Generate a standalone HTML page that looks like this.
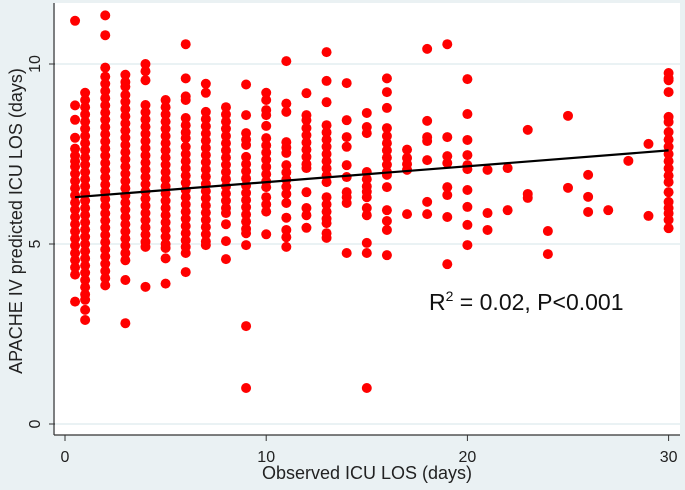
<!DOCTYPE html>
<html><head><meta charset="utf-8"><style>
html,body{margin:0;padding:0;background:#eaf1f3;}
svg{display:block;font-family:"Liberation Sans",sans-serif;}
</style></head><body>
<svg id="chart" width="685" height="490" viewBox="0 0 685 490" xmlns="http://www.w3.org/2000/svg">
<rect x="0" y="0" width="685" height="490" fill="#eaf1f3"/>
<rect x="55" y="3" width="625" height="432" fill="#ffffff"/>
<g id="grid"></g>
<g id="points"></g>
<g id="fit"></g>
<g id="axes"></g>
<text transform="translate(22,221) rotate(-90)" text-anchor="middle" font-size="18" fill="#222">APACHE IV predicted ICU LOS (days)</text>
<text x="367" y="479" text-anchor="middle" font-size="18" fill="#222">Observed ICU LOS (days)</text>
<text x="429" y="310" font-size="23" fill="#111">R<tspan dy="-9" font-size="14">2</tspan><tspan dy="9"> = 0.02, P&lt;0.001</tspan></text>
</svg>
<script>
const xTicks=[0,10,20,30];
const yTicks=[0,5,10];
const colX=[0.5,1,2,3,4,5,6,7,8,9,10,11,12,13,14,15,16,17,18,19,20,21,22,23,24,25,26,27,28,29,30];
const colY=[
[11.2,8.85,8.45,7.95,7.65,7.45,7.3,7.15,6.95,6.75,6.55,6.35,6.15,5.95,5.75,5.55,5.35,5.15,4.95,4.75,4.55,4.35,4.15,3.4],
[9.2,9.0,8.8,8.6,8.4,8.2,8.0,7.8,7.6,7.4,7.2,7.0,6.8,6.6,6.4,6.2,6.0,5.8,5.6,5.4,5.2,5.0,4.8,4.6,4.4,4.2,4.0,3.8,3.6,3.45,3.17,2.89],
[11.35,10.8,9.9,9.65,9.45,9.25,9.05,8.85,8.65,8.45,8.25,8.05,7.85,7.65,7.45,7.25,7.05,6.85,6.65,6.45,6.25,6.05,5.85,5.65,5.45,5.25,5.05,4.85,4.65,4.45,4.25,4.05,3.85],
[9.7,9.5,9.37,9.14,8.95,8.75,8.55,8.35,8.15,7.95,7.75,7.55,7.35,7.15,6.95,6.75,6.55,6.35,6.15,5.95,5.75,5.55,5.35,5.15,4.95,4.75,4.55,4.0,2.8],
[10.0,9.8,9.55,8.86,8.66,8.46,8.26,8.06,7.86,7.66,7.46,7.26,7.06,6.86,6.66,6.46,6.26,6.06,5.86,5.66,5.46,5.26,5.06,4.92,3.81],
[9.0,8.8,8.6,8.4,8.2,8.0,7.8,7.6,7.4,7.2,7.0,6.8,6.6,6.4,6.2,6.0,5.8,5.6,5.4,5.2,5.0,4.89,4.6,3.9],
[10.55,9.6,9.1,9.0,8.5,8.3,8.1,7.94,7.7,7.5,7.3,7.1,6.9,6.7,6.5,6.3,6.1,5.9,5.7,5.5,5.3,5.1,4.92,4.75,4.22],
[9.45,9.2,8.67,8.47,8.27,8.07,7.87,7.67,7.47,7.27,7.07,6.87,6.67,6.47,6.27,6.07,5.87,5.67,5.47,5.27,5.07,4.97],
[8.8,8.6,8.4,8.2,8.0,7.8,7.6,7.4,7.2,7.0,6.8,6.6,6.4,6.2,6.0,5.86,5.55,5.08,4.58],
[9.43,8.58,8.08,7.9,7.75,7.42,7.22,7.02,6.82,6.62,6.42,6.22,6.02,5.82,5.62,5.42,5.3,4.97,2.72,1.0],
[9.2,9.0,8.72,8.58,8.28,7.94,7.74,7.54,7.34,7.14,6.94,6.74,6.58,6.3,6.1,5.9,5.27],
[10.08,8.9,8.67,7.83,7.68,7.53,7.19,6.99,6.79,6.59,6.39,6.14,5.73,5.39,5.19,4.92],
[9.19,8.58,8.44,8.22,8.02,7.82,7.62,7.42,7.22,7.11,6.44,6.0,5.8,5.45],
[10.33,9.53,8.94,8.3,8.1,7.9,7.7,7.5,7.3,7.1,6.9,6.72,6.3,6.1,5.9,5.7,5.58,5.3,5.17],
[9.47,8.44,7.97,7.7,7.19,6.86,6.44,6.3,6.14,4.75],
[8.64,8.25,8.08,7.0,6.8,6.6,6.45,6.3,6.0,5.8,5.03,4.75,1.0],
[9.6,9.22,8.78,8.22,8.0,7.8,7.6,7.4,7.2,7.0,6.92,6.58,5.94,5.64,5.39,4.69],
[7.62,7.39,7.22,7.06,5.83],
[10.42,8.42,7.97,7.86,7.33,6.17,5.83],
[10.55,7.97,7.44,7.25,6.58,6.36,5.75,4.44],
[9.58,8.61,7.89,7.47,7.19,7.08,6.5,6.03,5.53,4.97],
[7.06,5.86,5.39],
[7.11,5.94],
[8.17,6.39,6.28],
[5.36,4.72],
[8.56,6.56],
[6.92,6.31,5.89],
[5.94],
[7.31],
[7.78,5.78],
[9.75,9.6,9.55,9.22,8.53,8.39,8.11,7.9,7.7,7.5,7.3,7.1,6.9,6.72,6.44,6.17,6.0,5.85,5.67,5.44]
];
const fitX=[0.5,30];
const fitY=[6.3,7.6];

const NS="http://www.w3.org/2000/svg";
function xs(v){return 65+v*20.12;}
function ys(v){return 424-v*36.0;}
function mk(tag,attrs,parent){const e=document.createElementNS(NS,tag);for(const k in attrs)e.setAttribute(k,attrs[k]);parent.appendChild(e);return e;}

const grid=document.getElementById('grid');
const axes=document.getElementById('axes');
const pts=document.getElementById('points');
const fit=document.getElementById('fit');

yTicks.forEach(t=>{
  const g=mk('line',{x1:55,x2:680,y1:ys(t),y2:ys(t),stroke:'#e4eef1','stroke-width':1.5},grid);
  
  
  const tk=mk('line',{x1:49,x2:55,y1:ys(t),y2:ys(t),stroke:'#333','stroke-width':1},axes);
  
  
  const lb=mk('text',{transform:'translate(40,'+ys(t)+') rotate(-90)','text-anchor':'middle','font-size':16,fill:'#222'},axes);
  lb.textContent=t;
  
  
});
xTicks.forEach(t=>{
  const tk=mk('line',{x1:xs(t),x2:xs(t),y1:435,y2:441,stroke:'#333','stroke-width':1},axes);
  
  
  const lb=mk('text',{x:xs(t),y:462,'text-anchor':'middle','font-size':16,fill:'#222'},axes);
  lb.textContent=t;
  
  
});
const ya=mk('line',{x1:54,x2:54,y1:3,y2:435,stroke:'#333','stroke-width':1.2},axes);


const xa=mk('line',{x1:54,x2:680,y1:435,y2:435,stroke:'#333','stroke-width':1.2},axes);



colX.forEach((x,i)=>{
  colY[i].forEach(y=>{
    const c=mk('circle',{cx:xs(x),cy:ys(y),r:5,fill:'#ff0000'},pts);
    
    
  });
});
const fl=mk('line',{x1:xs(fitX[0]),y1:ys(fitY[0]),x2:xs(fitX[1]),y2:ys(fitY[1]),stroke:'#000','stroke-width':2.2},fit);


</script>
</body></html>
